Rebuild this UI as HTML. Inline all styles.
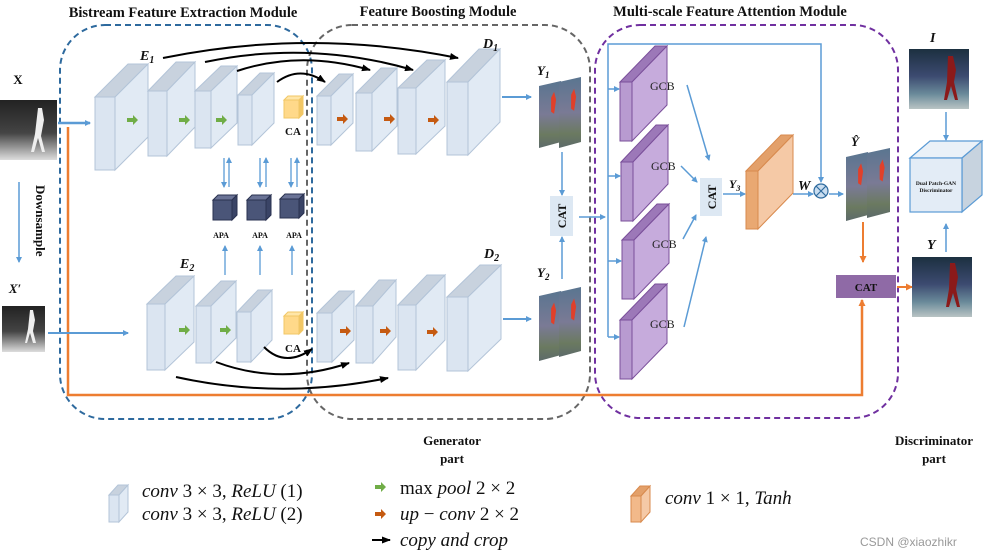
<!DOCTYPE html>
<html><head><meta charset="utf-8"><style>
body{margin:0;background:#fff}
svg{display:block}
.t{font-family:"Liberation Serif",serif;font-weight:bold;fill:#111}
.i{font-family:"Liberation Serif",serif;font-style:italic;fill:#111}
</style></head><body>
<svg id="s" width="986" height="555" viewBox="0 0 986 555" xmlns="http://www.w3.org/2000/svg">
<defs>
<marker id="ab" markerWidth="6" markerHeight="6" refX="5" refY="3" orient="auto" markerUnits="userSpaceOnUse"><path d="M0,0L6,3L0,6z" fill="#5b9bd5"/></marker>
<marker id="ao" markerWidth="7" markerHeight="7" refX="6" refY="3.5" orient="auto" markerUnits="userSpaceOnUse"><path d="M0,0L7,3.5L0,7z" fill="#ed7d31"/></marker>
<marker id="ak" markerWidth="9" markerHeight="7" refX="8" refY="3.5" orient="auto" markerUnits="userSpaceOnUse"><path d="M0,0L9,3.5L0,7z" fill="#000"/></marker>
<linearGradient id="gx" x1="0" y1="0" x2="0" y2="1"><stop offset="0" stop-color="#222"/><stop offset="0.55" stop-color="#444"/><stop offset="0.8" stop-color="#999"/><stop offset="1" stop-color="#ddd"/></linearGradient>
<linearGradient id="gc" x1="0" y1="0" x2="0" y2="1"><stop offset="0" stop-color="#1c3040"/><stop offset="0.45" stop-color="#3c4a70"/><stop offset="0.75" stop-color="#6a8a9a"/><stop offset="1" stop-color="#b9c4c4"/></linearGradient>
<linearGradient id="gy" x1="0" y1="0" x2="0" y2="1"><stop offset="0" stop-color="#5a7590"/><stop offset="0.5" stop-color="#7a7a95"/><stop offset="0.8" stop-color="#6b7a60"/><stop offset="1" stop-color="#5d6a6a"/></linearGradient>
</defs>

<text class="t" x="183" y="17" font-size="14.5" text-anchor="middle">Bistream Feature Extraction Module</text>
<text class="t" x="438" y="16" font-size="14.5" text-anchor="middle">Feature Boosting Module</text>
<text class="t" x="730" y="16" font-size="14.5" text-anchor="middle">Multi-scale Feature Attention Module</text>

<rect x="60" y="25" width="252" height="394" rx="45" fill="none" stroke="#2e6a9e" stroke-width="2" stroke-dasharray="6,4"/>
<rect x="307" y="25" width="283" height="394" rx="45" fill="none" stroke="#666" stroke-width="2" stroke-dasharray="6,4"/>
<rect x="595" y="25" width="303" height="393" rx="45" fill="none" stroke="#7030a0" stroke-width="2" stroke-dasharray="6,4"/>

<polyline points="68,127 68,395 862,395 862,300" fill="none" stroke="#ed7d31" stroke-width="2.5" marker-end="url(#ao)"/>

<g id="blocks"></g>

<text class="t" x="18" y="84" font-size="13" text-anchor="middle">X</text>
<rect x="0" y="100" width="57" height="60" fill="url(#gx)"/>
<path d="M38,108 l4,0 l2,12 l-3,16 l4,16 l-3,0 l-4,-14 l-4,14 l-3,0 l4,-18z" fill="#eee"/>
<line x1="58" y1="123" x2="90" y2="123" stroke="#5b9bd5" stroke-width="2.5" marker-end="url(#ab)"/>
<line x1="19" y1="182" x2="19" y2="262" stroke="#5b9bd5" stroke-width="1.5" marker-end="url(#ab)"/>
<text class="t" font-size="13" transform="translate(36,185) rotate(90)">Downsample</text>
<text class="i" x="15" y="293" font-size="13" font-weight="bold" text-anchor="middle">X′</text>
<rect x="2" y="306" width="43" height="46" fill="url(#gx)"/>
<path d="M30,310 l3,0 l2,10 l-2,11 l3,12 l-3,0 l-3,-10 l-3,10 l-2,0 l3,-14z" fill="#eee"/>
<line x1="48" y1="333" x2="128" y2="333" stroke="#5b9bd5" stroke-width="2" marker-end="url(#ab)"/>

<text class="i" x="140" y="60" font-size="14" font-weight="bold">E<tspan font-size="10" dy="3">1</tspan></text>
<text class="i" x="180" y="268" font-size="14" font-weight="bold">E<tspan font-size="10" dy="3">2</tspan></text>
<text class="i" x="483" y="48" font-size="14" font-weight="bold">D<tspan font-size="10" dy="3">1</tspan></text>
<text class="i" x="484" y="258" font-size="14" font-weight="bold">D<tspan font-size="10" dy="3">2</tspan></text>
<text class="t" x="293" y="135" font-size="11" text-anchor="middle">CA</text>
<text class="t" x="293" y="352" font-size="11" text-anchor="middle">CA</text>
<text class="t" x="221" y="238" font-size="8" text-anchor="middle">APA</text>
<text class="t" x="260" y="238" font-size="8" text-anchor="middle">APA</text>
<text class="t" x="294" y="238" font-size="8" text-anchor="middle">APA</text>

<g fill="none" stroke="#000" stroke-width="2">
<path d="M163,58 Q310,28 458,58" marker-end="url(#ak)"/>
<path d="M205,62 Q310,40 413,70" marker-end="url(#ak)"/>
<path d="M237,71 Q300,50 370,70" marker-end="url(#ak)"/>
<path d="M277,82 Q300,65 325,82" marker-end="url(#ak)"/>
<path d="M264,347 Q285,368 312,349" marker-end="url(#ak)"/>
<path d="M216,362 Q280,386 349,363" marker-end="url(#ak)"/>
<path d="M176,377 Q280,400 388,378" marker-end="url(#ak)"/>
</g>

<g stroke="#5b9bd5" stroke-width="1.3">
<line x1="224" y1="158" x2="224" y2="187" marker-end="url(#ab)"/><line x1="229" y1="187" x2="229" y2="158" marker-end="url(#ab)"/>
<line x1="260" y1="158" x2="260" y2="187" marker-end="url(#ab)"/><line x1="266" y1="187" x2="266" y2="158" marker-end="url(#ab)"/>
<line x1="291" y1="158" x2="291" y2="187" marker-end="url(#ab)"/><line x1="297" y1="187" x2="297" y2="158" marker-end="url(#ab)"/>
<line x1="225" y1="275" x2="225" y2="246" marker-end="url(#ab)"/>
<line x1="260" y1="275" x2="260" y2="246" marker-end="url(#ab)"/>
<line x1="292" y1="275" x2="292" y2="246" marker-end="url(#ab)"/>
</g>

<line x1="502" y1="97" x2="531" y2="97" stroke="#5b9bd5" stroke-width="2" marker-end="url(#ab)"/>
<line x1="503" y1="319" x2="531" y2="319" stroke="#5b9bd5" stroke-width="2" marker-end="url(#ab)"/>
<text class="i" x="537" y="75" font-size="13" font-weight="bold">Y<tspan font-size="9" dy="3">1</tspan></text>
<text class="i" x="537" y="277" font-size="13" font-weight="bold">Y<tspan font-size="9" dy="3">2</tspan></text>
<g id="yimgs"></g>
<line x1="562" y1="152" x2="562" y2="195" stroke="#5b9bd5" stroke-width="1.5" marker-end="url(#ab)"/>
<line x1="562" y1="279" x2="562" y2="237" stroke="#5b9bd5" stroke-width="1.5" marker-end="url(#ab)"/>
<rect x="550" y="196" width="23" height="40" fill="#dde8f3"/>
<text class="t" font-size="12" text-anchor="middle" transform="translate(566,216) rotate(-90)">CAT</text>
<line x1="579" y1="217" x2="605" y2="217" stroke="#5b9bd5" stroke-width="1.5" marker-end="url(#ab)"/>

<g fill="none" stroke="#5b9bd5" stroke-width="1.5">
<polyline points="608,337 608,44 821,44 821,182" marker-end="url(#ab)"/>
<line x1="608" y1="89" x2="619" y2="89" marker-end="url(#ab)"/>
<line x1="608" y1="176" x2="620" y2="176" marker-end="url(#ab)"/>
<line x1="608" y1="261" x2="621" y2="261" marker-end="url(#ab)"/>
<line x1="608" y1="337" x2="619" y2="337" marker-end="url(#ab)"/>
<line x1="687" y1="85" x2="709" y2="160" marker-end="url(#ab)"/>
<line x1="681" y1="166" x2="697" y2="182" marker-end="url(#ab)"/>
<line x1="683" y1="239" x2="696" y2="215" marker-end="url(#ab)"/>
<line x1="684" y1="327" x2="706" y2="237" marker-end="url(#ab)"/>
<line x1="723" y1="194" x2="745" y2="194" marker-end="url(#ab)"/>
<line x1="793" y1="194" x2="813" y2="194" marker-end="url(#ab)"/>
<line x1="829" y1="194" x2="843" y2="194" marker-end="url(#ab)"/>
</g>
<rect x="700" y="178" width="22" height="38" fill="#dde8f3"/>
<text class="t" font-size="12" text-anchor="middle" transform="translate(716,197) rotate(-90)">CAT</text>
<text class="i" x="729" y="188" font-size="12" font-weight="bold">Y<tspan font-size="8" dy="3">3</tspan></text>
<text class="i" x="798" y="190" font-size="14" font-weight="bold">W</text>
<circle cx="821" cy="191" r="7" fill="#c9ddf0" stroke="#2e6a9e" stroke-width="1.2"/>
<path d="M816,186L826,196M826,186L816,196" stroke="#2e6a9e" stroke-width="1.2"/>
<text class="i" x="851" y="146" font-size="13" font-weight="bold">Ŷ</text>
<line x1="863" y1="222" x2="863" y2="262" stroke="#ed7d31" stroke-width="2" marker-end="url(#ao)"/>
<rect x="836" y="275" width="60" height="23" fill="#8f6aa6"/>
<text class="t" x="866" y="291" font-size="11" text-anchor="middle">CAT</text>
<line x1="897" y1="287" x2="912" y2="287" stroke="#ed7d31" stroke-width="2" marker-end="url(#ao)"/>

<text class="i" x="930" y="42" font-size="14" font-weight="bold">I</text>
<rect x="909" y="49" width="60" height="60" fill="url(#gc)"/>
<path d="M948,56 l5,0 l3,14 l-2,12 l4,18 l-3,0 l-4,-14 l-4,14 l-3,0 l3,-18z" fill="#8b1a1a"/>
<line x1="946" y1="112" x2="946" y2="140" stroke="#5b9bd5" stroke-width="1.5" marker-end="url(#ab)"/>
<path d="M910,158 L930,141 L982,141 L962,158Z" fill="#eaf1f8" stroke="#5b9bd5" stroke-width="1.2"/>
<path d="M962,158 L982,141 L982,195 L962,212Z" fill="#c7d3df" stroke="#5b9bd5" stroke-width="1.2"/>
<rect x="910" y="158" width="52" height="54" fill="#e3ecf6" stroke="#5b9bd5" stroke-width="1.2"/>
<text class="t" x="936" y="185" font-size="5.5" text-anchor="middle">Dual Patch-GAN</text>
<text class="t" x="936" y="192" font-size="5.5" text-anchor="middle">Discriminator</text>
<text class="i" x="927" y="249" font-size="14" font-weight="bold">Y</text>
<line x1="946" y1="252" x2="946" y2="224" stroke="#5b9bd5" stroke-width="1.5" marker-end="url(#ab)"/>
<rect x="912" y="257" width="60" height="60" fill="url(#gc)"/>
<path d="M950,263 l5,0 l3,14 l-2,12 l4,18 l-3,0 l-4,-14 l-4,14 l-3,0 l3,-18z" fill="#8b1a1a"/>

<text class="t" x="452" y="445" font-size="13" text-anchor="middle">Generator</text>
<text class="t" x="452" y="463" font-size="13" text-anchor="middle">part</text>
<text class="t" x="934" y="445" font-size="13" text-anchor="middle">Discriminator</text>
<text class="t" x="934" y="463" font-size="13" text-anchor="middle">part</text>

<text class="i" x="142" y="497" font-size="19">conv <tspan font-style="normal">3 × 3,</tspan> ReLU <tspan font-style="normal">(1)</tspan></text>
<text class="i" x="142" y="520" font-size="19">conv <tspan font-style="normal">3 × 3,</tspan> ReLU <tspan font-style="normal">(2)</tspan></text>
<text class="i" x="400" y="494" font-size="19"><tspan font-style="normal">max</tspan> pool <tspan font-style="normal">2 × 2</tspan></text>
<text class="i" x="400" y="520" font-size="19">up <tspan font-style="normal">− </tspan>conv <tspan font-style="normal">2 × 2</tspan></text>
<text class="i" x="400" y="546" font-size="19">copy and crop</text>
<line x1="372" y1="540" x2="390" y2="540" stroke="#000" stroke-width="2" marker-end="url(#ak)"/>
<text class="i" x="665" y="504" font-size="19">conv <tspan font-style="normal">1 × 1,</tspan> Tanh</text>
<text x="860" y="546" font-size="12" fill="#999" font-family="Liberation Sans,sans-serif">CSDN @xiaozhikr</text>
</svg>
<script>
var NS="http://www.w3.org/2000/svg",g=document.getElementById('blocks');
function el(t,a,p){var e=document.createElementNS(NS,t);for(var k in a)e.setAttribute(k,a[k]);(p||g).appendChild(e);return e;}
function slab(x,y,w,h,dx,dy,c){
 c=c||{f:"#dbe5f1",t:"#c8d2de",s:"#e1eaf4",k:"#b3c4d8"};
 el('path',{d:`M${x},${y}L${x+dx},${y-dy}L${x+w+dx},${y-dy}L${x+w},${y}Z`,fill:c.t,stroke:c.k,'stroke-width':1});
 el('path',{d:`M${x+w},${y}L${x+w+dx},${y-dy}L${x+w+dx},${y+h-dy}L${x+w},${y+h}Z`,fill:c.s,stroke:c.k,'stroke-width':1});
 el('rect',{x:x,y:y,width:w,height:h,fill:c.f,stroke:c.k,'stroke-width':1});
}
function arr(x,y,col){el('path',{d:`M${x-6},${y-2}h6v-3l5,5l-5,5v-3h-6z`,fill:col});}
slab(95,97,20,73,33,33);slab(148,91,19,65,28,29);slab(195,91,16,57,26,25);slab(238,95,14,50,22,22);
slab(317,96,14,49,22,22);slab(356,93,16,58,25,25);slab(398,88,18,66,29,28);slab(447,82,21,73,32,33);
slab(147,304,18,66,29,28);slab(196,306,15,57,25,25);slab(237,312,14,50,21,22);
slab(317,313,15,49,22,22);slab(356,306,17,57,23,26);slab(398,305,18,65,29,30);slab(447,297,21,74,33,32);
var ca={f:"#ffd98a",t:"#ffe6a8",s:"#f2c766",k:"#f2c766"};
slab(284,100,15,18,4,4,ca);slab(284,316,15,18,4,4,ca);
var ap={f:"#4a5578",t:"#6a7396",s:"#3a4466",k:"#2a3250"};
slab(213,200,19,20,5,5,ap);slab(247,200,19,20,5,5,ap);slab(280,199,19,19,5,5,ap);
['133,120','185,120','222,120','185,330','226,330'].forEach(s=>{var p=s.split(',');arr(+p[0],+p[1],'#70ad47');});
['343,119','390,119','434,120','346,331','386,331','433,332'].forEach(s=>{var p=s.split(',');arr(+p[0],+p[1],'#c55a11');});
var gc={f:"#b89bd0",t:"#9c78b8",s:"#c6abdc",k:"#7a4f9a"};
[[620,82,36],[621,162,37],[622,240,36],[620,320,36]].forEach(b=>{slab(b[0],b[1],12,59,35,b[2],gc);
 el('text',{x:b[0]+30,y:b[1]+8,'font-size':12,'font-family':'Liberation Serif,serif',fill:'#222'}).textContent='GCB';});
slab(746,171,12,58,35,36,{f:"#e9a872",t:"#e3a06a",s:"#f5c9a6",k:"#d88a4e"});
slab(109,495,10,27,9,10);slab(631,496,10,26,9,10,{f:"#f2b98a",t:"#e3a06a",s:"#f5c9a6",k:"#d88a4e"});
arr(381,487,'#70ad47');arr(381,514,'#c55a11');
var yi=document.getElementById('yimgs');
function img(x,y,w,h){
 el('path',{d:`M${x},${y+5}L${x+w},${y}L${x+w},${y+h-6}L${x},${y+h}Z`,fill:'url(#gy)'},yi);
 el('path',{d:`M${x+w*0.55},${y+h*0.25}l3,-6l2,8l-2,14l-3,-2z`,fill:'#e0402a'},yi);
}
img(539,81,22,67);img(559,77,22,71);img(539,291,22,70);img(559,287,22,70);img(846,152,22,69);img(867,148,23,70);
</script>
</body></html>
